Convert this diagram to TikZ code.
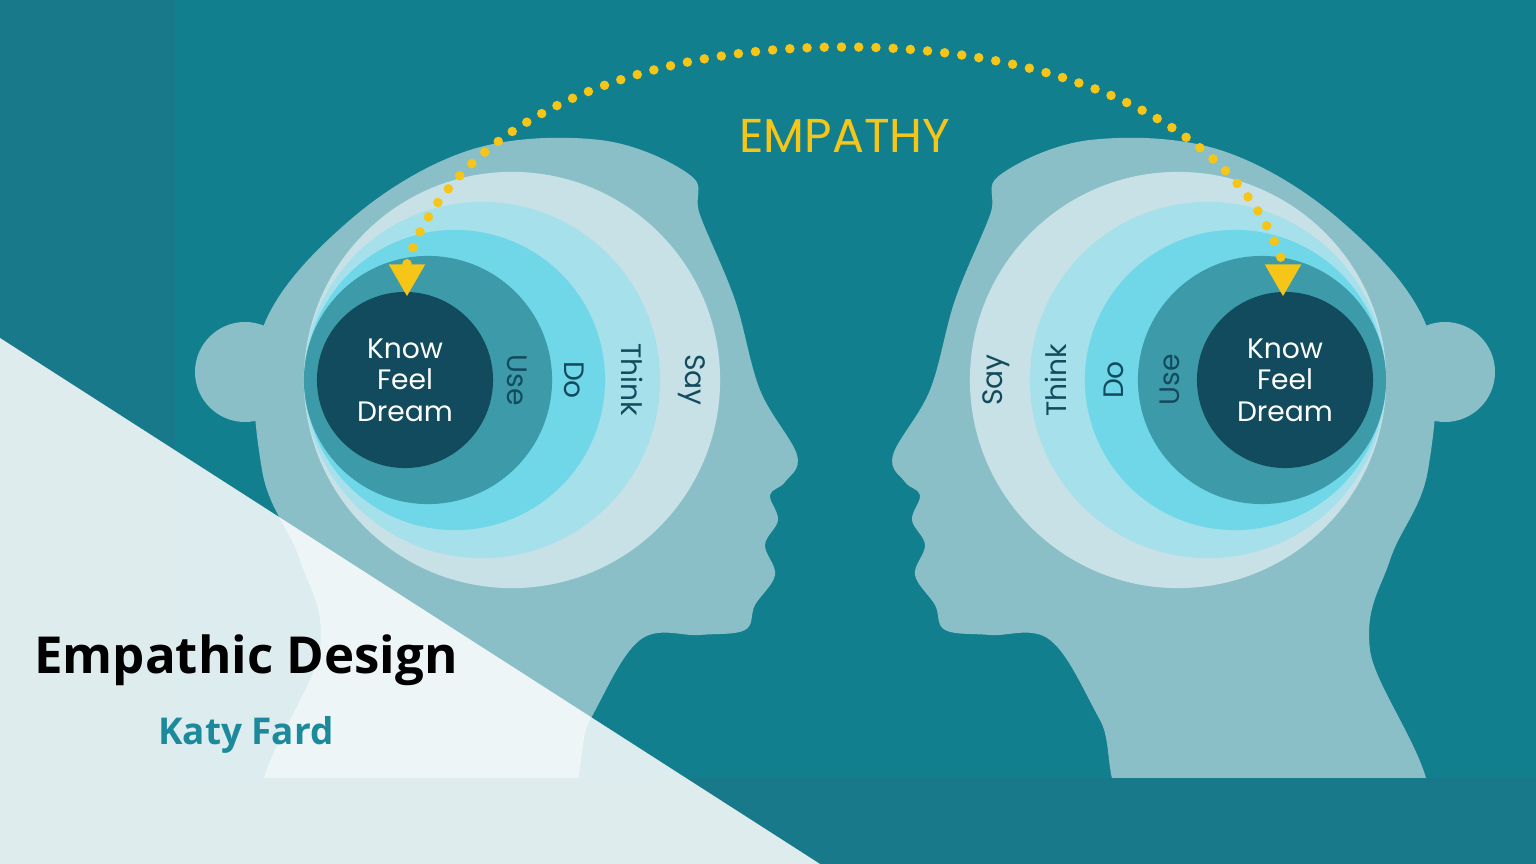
\documentclass[tikz,border=0pt]{standalone}
\usepackage{fontspec}
\setmainfont{Poppins}
\newfontfamily\titlefont{Open Sans}
\usetikzlibrary{shapes.geometric,positioning}

\definecolor{bgteal}{HTML}{127F8E}
\definecolor{bandteal}{HTML}{17798A}
\definecolor{headblue}{HTML}{8BBFC8}
\definecolor{saycol}{HTML}{C7E1E6}
\definecolor{thinkcol}{HTML}{A6E0EA}
\definecolor{docol}{HTML}{6FD7E8}
\definecolor{usecol}{HTML}{3D9AA8}
\definecolor{corecol}{HTML}{134B5E}
\definecolor{empyellow}{HTML}{F5C518}
\definecolor{namecol}{HTML}{1C8A9A}

\begin{document}
\begin{tikzpicture}[x=0.01cm,y=-0.01cm]
  \tikzset{
    Ring/.style  = {circle, inner sep=0pt},
    Layer/.style = {font=\fontsize{8}{9}\selectfont, text=corecol},
    Core/.style  = {font=\fontsize{8}{9}\selectfont, text=white, align=center},
    Tip/.style   = {regular polygon, regular polygon sides=3, shape border rotate=180,
                    fill=empyellow, minimum size=0.42cm, inner sep=0pt},
    Dots/.style  = {empyellow, line width=2.7pt, line cap=round, dash pattern=on 0pt off 4.9pt}
  }
  \useasboundingbox (0,0) rectangle (1536,864);
  \fill[bgteal] (0,0) rectangle (1536,864);
  \fill[bandteal] (0,0) rectangle (175,864);

  % heads
  \newcommand\headshape{%
    \fill[headblue] (245,372) circle (50);
    \fill[headblue] plot[smooth cycle, tension=0.6] coordinates {
      (270,820) (320,650) (300,560) (262,470) (262,330) (350,220) (470,150)
      (600,140) (690,175) (700,215) (735,300) (760,390) (797,455) (785,482)
      (770,495) (778,520) (765,545) (775,575) (755,605) (745,630) (700,635)
      (640,640) (590,720) (540,820)};}
  \headshape
  \begin{scope}[shift={(1690,0)}, xscale=-1]
    \headshape
  \end{scope}

  % left rings
  \node[Ring, fill=saycol,   minimum size=4.16cm] (lsay)   at (512,380) {};
  \node[Ring, fill=thinkcol, minimum size=3.56cm] (lthink) at (482,380) {};
  \node[Ring, fill=docol,    minimum size=3.00cm] (ldo)    at (455,380) {};
  \node[Ring, fill=usecol,   minimum size=2.48cm] (luse)   at (428,380) {};
  \node[Ring, fill=corecol,  minimum size=1.76cm] (lcore)  at (405,380) {};
  % right rings
  \node[Ring, fill=saycol,   minimum size=4.16cm] (rsay)   at (1178,380) {};
  \node[Ring, fill=thinkcol, minimum size=3.56cm] (rthink) at (1208,380) {};
  \node[Ring, fill=docol,    minimum size=3.00cm] (rdo)    at (1235,380) {};
  \node[Ring, fill=usecol,   minimum size=2.48cm] (ruse)   at (1262,380) {};
  \node[Ring, fill=corecol,  minimum size=1.76cm] (rcore)  at (1285,380) {};

  \node[Core] at (lcore) {Know\\Feel\\Dream};
  \node[Core] at (rcore) {Know\\Feel\\Dream};
  \node[Layer, rotate=-90] at (517,380) {Use};
  \node[Layer, rotate=-90] at (574,380) {Do};
  \node[Layer, rotate=-90] at (632,380) {Think};
  \node[Layer, rotate=-90] at (692,380) {Say};
  \node[Layer, rotate=90] at (1170,380) {Use};
  \node[Layer, rotate=90] at (1114,380) {Do};
  \node[Layer, rotate=90] at (1056,380) {Think};
  \node[Layer, rotate=90] at (996,380) {Say};

  % empathy arc
  \node[Tip] (ltip) at (407,275) {};
  \node[Tip] (rtip) at (1283,275) {};
  \coordinate (apex) at (845,47);
  \draw[Dots] (ltip.north) .. controls (450,130) and (620,47) .. (apex)
                           .. controls (1070,47) and (1240,130) .. (rtip.north);
  \node[text=empyellow, font=\fontsize{13.5}{14}\selectfont] (emp) at (845,136) {EMPATHY};

  % bottom band
  \fill[bandteal] (175,778) rectangle (1536,864);

  % title panel
  \fill[white, opacity=0.86] (0,338) -- (820,864) -- (0,864) -- cycle;
  \node[font=\titlefont\bfseries\fontsize{14.5}{15}\selectfont] (title) at (246,660) {Empathic Design};
  \node[font=\titlefont\bfseries\fontsize{10.5}{11}\selectfont, text=namecol] (author) at (246,735) {Katy Fard};
\end{tikzpicture}
\end{document}
